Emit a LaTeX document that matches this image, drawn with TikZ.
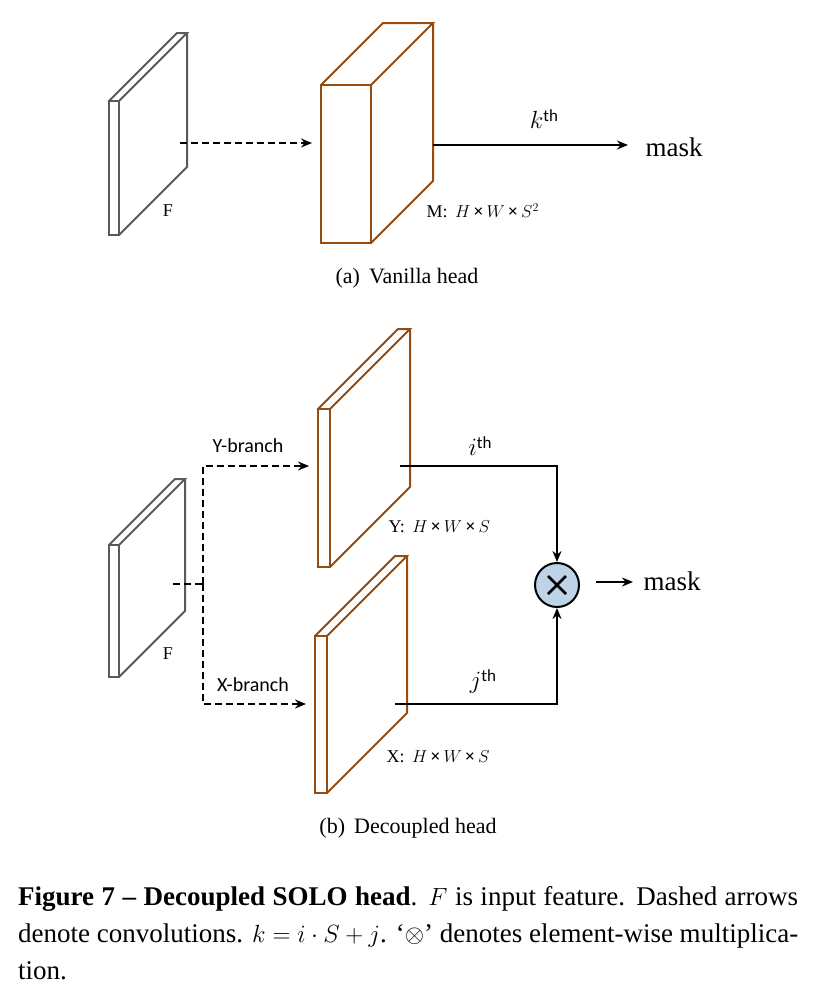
\documentclass[tikz,border=0pt]{standalone}
\usepackage{fontspec}
\setmainfont{Liberation Serif}
\newfontfamily\calf{Carlito}
\usetikzlibrary{arrows.meta,calc}
\definecolor{brn}{RGB}{150,75,15}
\definecolor{gry}{RGB}{90,90,90}
\definecolor{cblue}{RGB}{190,210,232}
\newcommand{\thsup}{{\calf\raisebox{7pt}{\fontsize{17}{17}\selectfont th}}}
\begin{document}
\begin{tikzpicture}[x=1pt,y=-1pt,
  slab/.style={line width=2pt,line join=miter},
  dsh/.style={line width=1.7pt,dash pattern=on 7pt off 4pt,-{Stealth[length=11pt,width=9pt]}},
  sol/.style={line width=1.8pt,-{Stealth[length=11pt,width=9pt]}},
  lbl/.style={font=\fontsize{18}{20}\selectfont},
  br/.style={font=\calf\fontsize{20}{22}\selectfont},
  subcap/.style={font=\fontsize{22}{24}\selectfont}]
\useasboundingbox (0,0) rectangle (813,991);
% ---- (a)
\draw[slab,gry] (109,101) rectangle (119,235);
\draw[slab,gry] (109,101) -- (177,33) -- (187,33) -- (119,101);
\draw[slab,gry] (187,33) -- (187,167) -- (119,235);
\node[lbl] (fa) at (168,211) {F};
\draw[slab,brn] (321,85) rectangle (371,243);
\draw[slab,brn] (321,85) -- (383,23) -- (433,23) -- (371,85);
\draw[slab,brn] (433,23) -- (433,181) -- (371,243);
\coordinate (fa1) at (180,143);
\coordinate (ma) at (312,143);
\draw[dsh] (fa1) -- (ma);
\coordinate (mo) at (433,145);
\node[font=\fontsize{27}{30}\selectfont,anchor=west] (maska) at (642,147) {mask};
\coordinate (mt) at (628,145);
\draw[sol] (mo) -- (mt);
\node[font=\fontsize{24}{26}\selectfont] (kth) at (544,119) {$k$\thsup};
\node[lbl,anchor=west] (ml) at (423,211) {M:\, $H$\,\textbf{×}\,$W$\,\textbf{×}\,$S^2$};
\node[subcap] (ca) at (407,278) {(a)\, Vanilla head};
% ---- (b)
\draw[slab,gry] (109,545) rectangle (119,677);
\draw[slab,gry] (109,545) -- (175,479) -- (185,479) -- (119,545);
\draw[slab,gry] (185,479) -- (185,611) -- (119,677);
\node[lbl] (fb) at (168,654) {F};
\draw[slab,brn] (318,409) rectangle (330,567);
\draw[slab,brn] (318,409) -- (398,329) -- (410,329) -- (330,409);
\draw[slab,brn] (410,329) -- (410,487) -- (330,567);
\draw[slab,brn] (315,636) rectangle (327,793);
\draw[slab,brn] (315,636) -- (395,556) -- (407,556) -- (327,636);
\draw[slab,brn] (407,556) -- (407,713) -- (327,793);
\coordinate (fb1) at (173,584);
\coordinate (jn) at (203,584);
\coordinate (yt) at (203,466);
\coordinate (xt) at (203,704);
\coordinate (ya) at (309,466);
\coordinate (xa) at (306,704);
\draw[line width=1.7pt,dash pattern=on 7pt off 4pt] (fb1) -- (jn);
\draw[dsh] (jn) -- (yt) -- (ya);
\draw[dsh] (jn) -- (xt) -- (xa);
\node[br] (yb) at (248,446) {Y-branch};
\node[br] (xb) at (253,685) {X-branch};
\node[circle,draw,line width=2pt,fill=cblue,minimum size=44pt,inner sep=0pt] (ot) at (557,585) {};
\draw[line width=2.8pt] ($(ot.center)+(-9,-9)$) -- ++(18,18) ($(ot.center)+(9,-9)$) -- ++(-18,18);
\coordinate (yo) at (400,466);
\coordinate (xo) at (395,704);
\draw[sol] (yo) -| (ot.north);
\draw[sol] (xo) -| (ot.south);
\node[font=\fontsize{24}{26}\selectfont] (ith) at (480,446) {$i$\thsup};
\node[font=\fontsize{24}{26}\selectfont] (jth) at (483,682) {$j$\thsup};
\node[lbl,anchor=west] (yl) at (385,527) {Y:\, $H$\,\textbf{×}\,$W$\,\textbf{×}\,$S$};
\node[lbl,anchor=west] (xl) at (383,757) {X:\, $H$\,\textbf{×}\,$W$\,\textbf{×}\,$S$};
\node[font=\fontsize{27}{30}\selectfont,anchor=west] (maskb) at (640,581) {mask};
\coordinate (oa) at (596,582);
\coordinate (ob) at (633,582);
\draw[sol] (oa) -- (ob);
\node[subcap] (cb) at (408,828) {(b)\, Decoupled head};
% caption
\node[anchor=north west,text width=780pt,align=justify,inner sep=0pt,
  font=\fontsize{27}{37}\selectfont] (fig) at (18,886)
  {\textbf{Figure 7 -- Decoupled SOLO head}. $F$ is input feature. Dashed arrows denote convolutions. $k=i\cdot S+j$. `$\otimes$' denotes element-wise multiplication.};
\end{tikzpicture}
\end{document}
